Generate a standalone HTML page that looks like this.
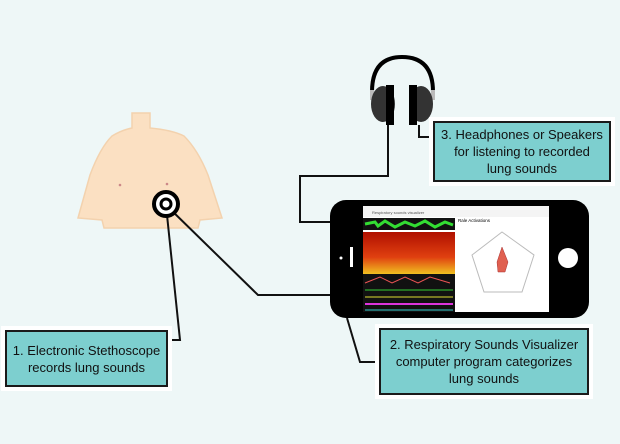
<!DOCTYPE html>
<html><head><style>
body{margin:0;width:620px;height:444px;background:#eef7f7;overflow:hidden;position:relative;font-family:"Liberation Sans",sans-serif}
.box{position:absolute;background:#7dcfcf;border:2px solid #1a1a1a;box-shadow:0 0 0 4px #fff;color:#111;font-size:13px;line-height:17px;text-align:center;box-sizing:border-box;display:flex;align-items:center;justify-content:center;white-space:nowrap}
</style></head><body>
<svg width="620" height="444" style="position:absolute;left:0;top:0">
<!-- torso -->
<path d="M132,113 L150,113 L150,128 Q172,130 184,136 Q198,150 208,175 L222,218 L200,220 L198,228 L104,228 L102,220 L78,218 L90,175 Q100,148 112,136 Q122,130 132,128 Z" fill="#fbe0c2" stroke="#f3d2ae" stroke-width="1.5"/>
<circle cx="120" cy="185" r="1.3" fill="#c88"/><circle cx="167" cy="184" r="1.3" fill="#c88"/>
<g stroke="#111" stroke-width="2" fill="none">
<polyline points="166,205 258,295 332,295"/>
<polyline points="167,215 180,340 168,340"/>
<polyline points="388,125 388,176 300,176 300,222 332,222"/>
<polyline points="419,125 419,137 434,137"/>
<polyline points="347,318 360,362 380,362"/>
</g>
<circle cx="166" cy="204" r="12" fill="#fff" stroke="#000" stroke-width="4"/>
<circle cx="166" cy="204" r="5" fill="none" stroke="#000" stroke-width="3"/>
<!-- headphones -->
<path d="M372,92 Q372,57 402,57 Q433,57 433,92" fill="none" stroke="#000" stroke-width="4"/>
<rect x="370" y="90" width="4" height="10" fill="#bbb"/><rect x="431" y="90" width="4" height="10" fill="#bbb"/>
<ellipse cx="383" cy="104" rx="12" ry="18" fill="#333"/>
<ellipse cx="421" cy="104" rx="12" ry="18" fill="#333"/>
<rect x="386" y="85" width="8" height="40" fill="#000"/>
<rect x="409" y="85" width="8" height="40" fill="#000"/>
<!-- phone -->
<rect x="330" y="200" width="259" height="118" rx="16" fill="#000"/>
<circle cx="568" cy="258" r="10" fill="#fff"/>
<rect x="350" y="247" width="3" height="20" fill="#fff"/>
<circle cx="341" cy="258" r="1.5" fill="#fff"/>
<rect x="363" y="206" width="186" height="106" fill="#fff"/>
<rect x="363" y="206" width="186" height="11" fill="#f4f4f4"/>
<text x="372" y="214" font-size="4" fill="#555">Respiratory sounds visualizer</text>
<rect x="363" y="218" width="92" height="12" fill="#111"/>
<path d="M365,224 L375,222 378,226 385,221 395,227 405,222 415,226 425,221 435,227 445,222 453,225" stroke="#3d3" stroke-width="3" fill="none"/>
<defs><linearGradient id="sp" x1="0" y1="0" x2="0" y2="1"><stop offset="0" stop-color="#b01000"/><stop offset="0.6" stop-color="#e04010"/><stop offset="1" stop-color="#f0c020"/></linearGradient></defs>
<rect x="363" y="232" width="92" height="42" fill="url(#sp)"/>
<rect x="363" y="274" width="92" height="38" fill="#111"/>
<path d="M365,283 L380,277 392,283 405,277 418,283 430,277 450,283" stroke="#e55" fill="none"/>
<line x1="365" y1="290" x2="453" y2="290" stroke="#3c3"/>
<line x1="365" y1="297" x2="453" y2="297" stroke="#dd3"/>
<line x1="365" y1="304" x2="453" y2="304" stroke="#d3d" stroke-width="2"/>
<line x1="365" y1="310" x2="453" y2="310" stroke="#3cc"/>
<text x="458" y="222" font-size="4.5" fill="#000">Rale Activations</text>
<polygon points="502,232 534,255 522,292 484,292 472,255" fill="none" stroke="#bbb"/>
<polygon points="502,247 508,262 505,272 498,272 497,262" fill="#e06050" stroke="#a33" stroke-width="0.5"/>
</svg>
<div class="box" style="left:5px;top:330px;width:163px;height:57px">1. Electronic Stethoscope<br>records lung sounds</div>
<div class="box" style="left:379px;top:328px;width:210px;height:67px">2. Respiratory Sounds Visualizer<br>computer program categorizes<br>lung sounds</div>
<div class="box" style="left:433px;top:121px;width:178px;height:61px">3. Headphones or Speakers<br>for listening to recorded<br>lung sounds</div>
</body></html>
